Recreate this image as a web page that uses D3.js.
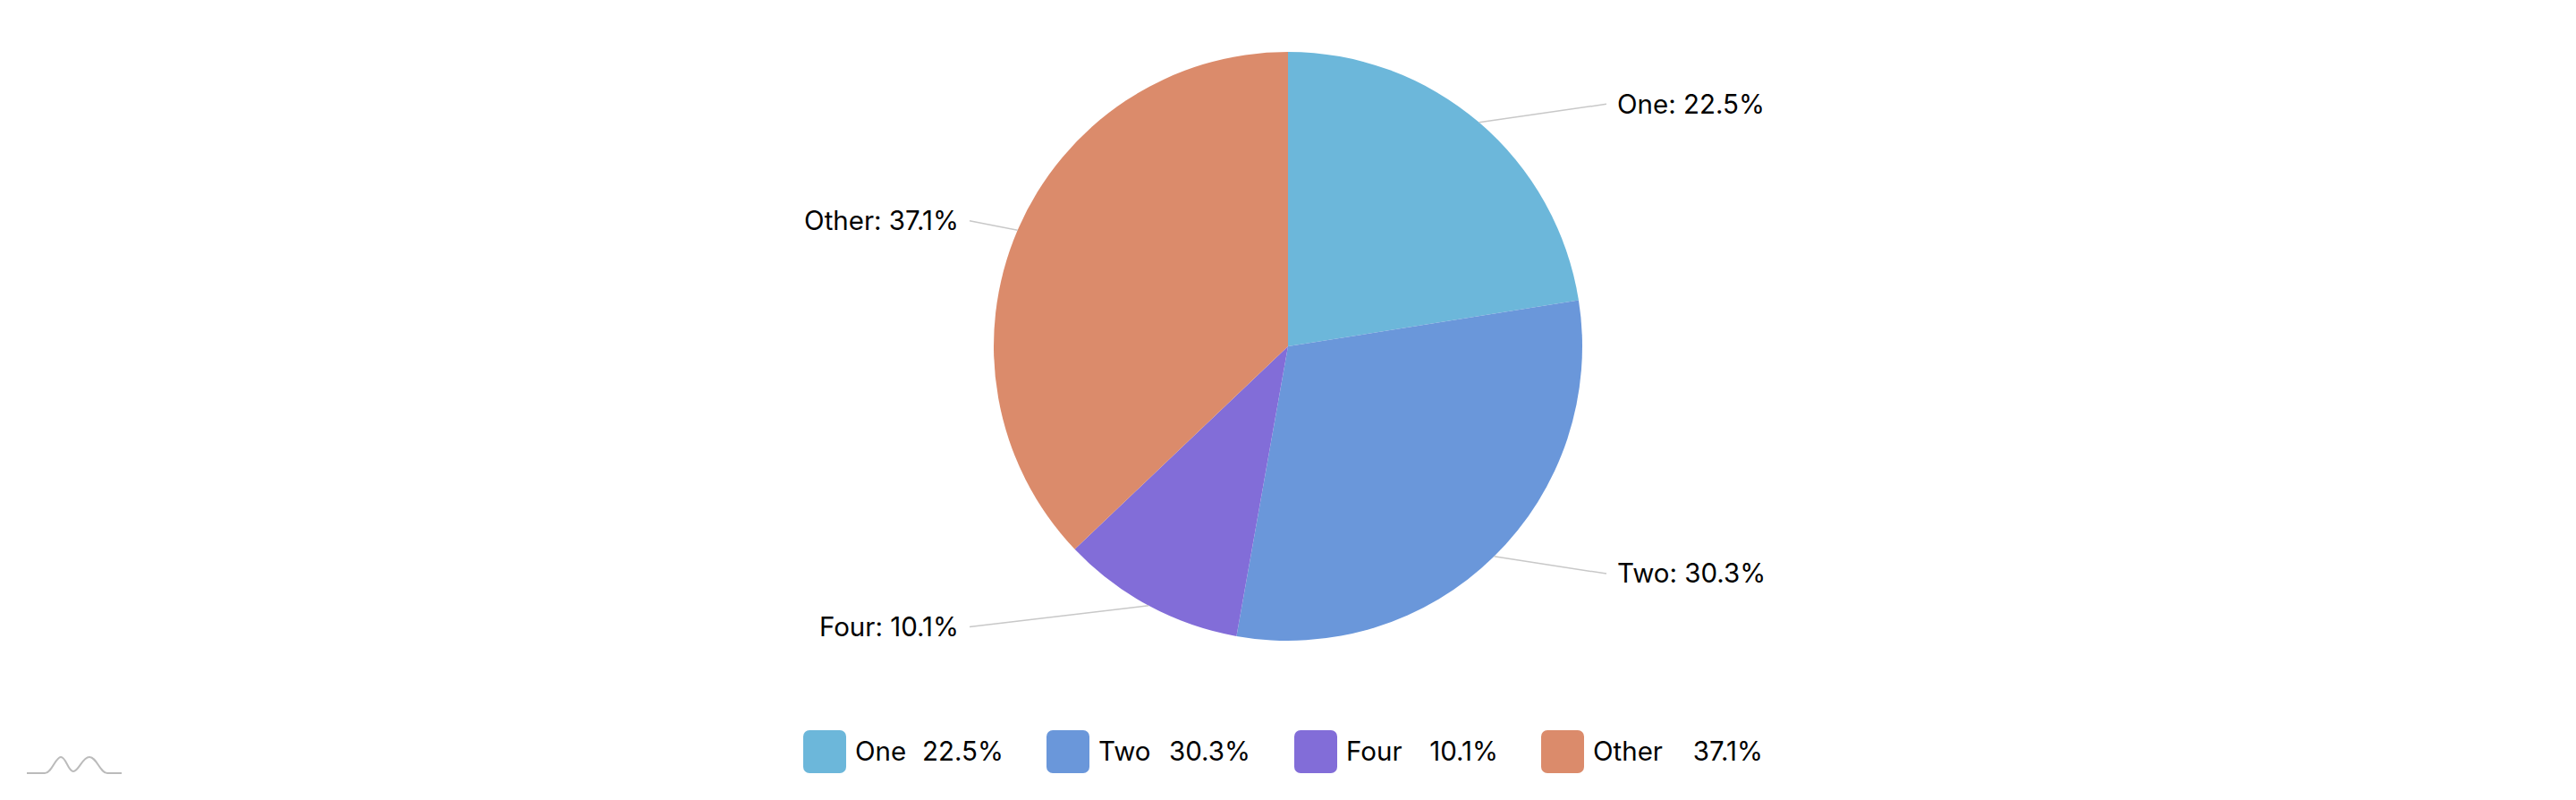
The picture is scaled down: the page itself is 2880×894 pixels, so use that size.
<!DOCTYPE html>
<html>
<head>
<meta charset="utf-8">
<script src="https://cdn.jsdelivr.net/npm/d3@7"></script>
<style>
  body { margin: 0; background: #fff; }
  svg { display: block; font-family: Inter, Roboto, sans-serif; }
</style>
</head>
<body>
<svg id="chart" width="2880" height="894"></svg>
<script>
const categories = ['One', 'Two', 'Four', 'Other'];
const values = [22.5, 30.3, 10.1, 37.1];
const colors = ['#6cb7da', '#6a97da', '#826dd8', '#db8b6b'];

const svg = d3.select('#chart');
const cx = 1440, cy = 387, r = 329, labelR = 356;
const fontSize = 29.5;

const pie = d3.pie().sort(null).value(d => d.value);
const arc = d3.arc().innerRadius(0).outerRadius(r);
const data = categories.map((c, i) => ({name: c, value: values[i], color: colors[i]}));
const arcs = pie(data);

const g = svg.append('g').attr('transform', `translate(${cx},${cy})`);

g.selectAll('path.slice')
    .data(arcs)
    .join('path')
    .attr('class', 'slice')
    .attr('d', arc)
    .attr('fill', d => d.data.color);

// label lines and texts
arcs.forEach(a => {
    const mid = (a.startAngle + a.endAngle) / 2;
    const right = Math.sin(mid) >= 0;
    const ex = r * Math.sin(mid), ey = -r * Math.cos(mid);
    const lx = right ? labelR : -labelR;
    const ly = -labelR * Math.cos(mid);
    g.append('polyline')
        .attr('points', `${ex},${ey} ${lx},${ly}`)
        .attr('fill', 'none')
        .attr('stroke', '#c8c8c8')
        .attr('stroke-width', 1.5);
    g.append('text')
        .attr('x', right ? lx + 12 : lx - 12)
        .attr('y', ly)
        .attr('dy', '0.35em')
        .attr('text-anchor', right ? 'start' : 'end')
        .attr('font-size', fontSize)
        .attr('fill', '#000')
        .text(`${a.data.name}: ${a.data.value.toFixed(1)}%`);
});

// legend
const legendX = [898, 1170, 1447, 1723];
const valueEnd = [1122, 1398, 1675, 1971];
const legend = svg.append('g');
data.forEach((d, i) => {
    legend.append('rect')
        .attr('x', legendX[i]).attr('y', 816)
        .attr('width', 48).attr('height', 48)
        .attr('rx', 7)
        .attr('fill', d.color);
    legend.append('text')
        .attr('x', legendX[i] + 58).attr('y', 840)
        .attr('dy', '0.35em')
        .attr('font-size', fontSize)
        .text(d.name);
    legend.append('text')
        .attr('x', valueEnd[i]).attr('y', 840)
        .attr('dy', '0.35em')
        .attr('text-anchor', 'end')
        .attr('font-size', fontSize)
        .text(`${d.value.toFixed(1)}%`);
});

// small logo mark, bottom left
svg.append('path')
    .attr('d', 'M30,864 L50,864 C58,864 62,846 68,846 C74,846 76,862 82,862 C88,862 92,846 100,846 C108,846 112,864 120,864 L136,864')
    .attr('fill', 'none')
    .attr('stroke', '#bbb')
    .attr('stroke-width', 2);
</script>
</body>
</html>
